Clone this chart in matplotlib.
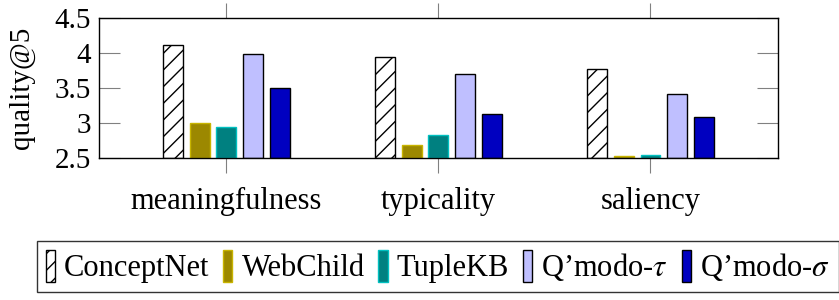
import numpy as np
import matplotlib
matplotlib.use("Agg")
from matplotlib import pyplot as plt

plt.rcParams['font.family'] = ['Liberation Serif', 'DejaVu Serif']
plt.rcParams['mathtext.fontset'] = 'stix'
plt.rcParams['hatch.linewidth'] = 1.0
plt.rcParams['hatch.color'] = '#333333'

groups = ["meaningfulness", "typicality", "saliency"]
series = ["ConceptNet", "WebChild", "TupleKB", "Q’modo-$\\tau$", "Q’modo-$\\sigma$"]
conceptnet = [4.11, 3.95, 3.77]
webchild = [3.00, 2.68, 2.53]
tuplekb = [2.94, 2.83, 2.55]
qmodo_tau = [3.99, 3.70, 3.42]
qmodo_sigma = [3.50, 3.13, 3.09]
values = [conceptnet, webchild, tuplekb, qmodo_tau, qmodo_sigma]

fills = ["white", "#9c8800", "#008080", "#bfbfff", "#0000c0"]
edges = ["black", "#c8b400", "#00c0c0", "black", "black"]
hatches = ["//", None, None, None, None]

fig = plt.figure(figsize=(8.39, 3.0), dpi=100)
ax = fig.add_axes([0.118, 0.473, 0.809, 0.467])

x = np.arange(len(groups))
w = 0.094
step = 0.126
for i in range(len(series)):
	ax.bar(x + (i - 2) * step, np.array(values[i]) - 2.5, w, bottom=2.5,
		color=fills[i], edgecolor=edges[i], hatch=hatches[i], linewidth=1.0,
		label=series[i])

ax.set_xlim(-0.6, 2.6)
ax.set_ylim(2.5, 4.5)
ax.set_yticks([2.5, 3, 3.5, 4, 4.5])
ax.set_yticklabels(["2.5", "3", "3.5", "4", "4.5"])
ax.set_xticks(x)
ax.set_xticklabels(groups)
ax.tick_params(axis='x', direction='out', top=True, length=11, width=0.8,
	color='#808080', labelsize=22, pad=10)
ax.tick_params(axis='y', direction='in', right=True, length=15, width=0.8,
	color='#808080', labelsize=21, pad=6)
for s in ax.spines.values():
	s.set_linewidth(1.0)
ax.set_ylabel("quality@5", fontsize=21, labelpad=14)

fig.legend(loc='lower center', bbox_to_anchor=(0.522, 0.005), ncol=5, fontsize=22,
	frameon=True, fancybox=False, edgecolor='black', handlelength=0.3,
	handleheight=1.2, handletextpad=0.3, columnspacing=0.45, borderpad=0.3,
	borderaxespad=0.2).get_frame().set_linewidth(1.0)

fig.savefig("out.png", dpi=100)
